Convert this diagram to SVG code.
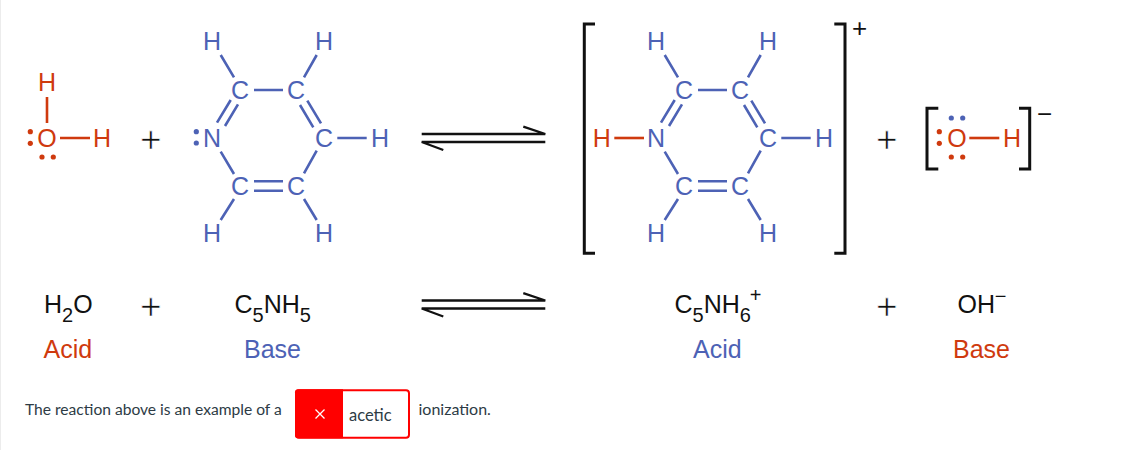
<svg xmlns="http://www.w3.org/2000/svg" width="1133" height="450" viewBox="0 0 1133 450">
<style>
text{font-family:"Liberation Sans",Arial,sans-serif;font-size:25px;text-anchor:middle}
.r{fill:#cf3a0e}.b{fill:#4d62b5}.k{fill:#111}
.sr{stroke:#cf3a0e;stroke-width:2.6;fill:none}
.sb{stroke:#4d62b5;stroke-width:2.6;fill:none}
.sk{stroke:#111;stroke-width:2.3;fill:none}
.br{stroke:#111;stroke-width:3;fill:none}
.p{font-size:37px;stroke:#fff;stroke-width:.7px}
.l{font-family:Lato,"Liberation Sans",sans-serif;font-size:15.6px;text-anchor:start;fill:#2d3b45}
.sub{font-size:20px}
</style>
<defs>
<g id="ringbonds" class="sb">
<path d="M220.7 55L234 77.3M316.7 55L304 77.3M254 90H283M217 122.7L230.7 100M225 126L238 104.3M300 105L313.3 127.3M307.3 100.7L321 123.3M220.7 151.7L234 174M316.7 150.7L304 173.3M254 181.3H283M254 190.7H283M234 199L220.7 220M304 199L316.7 220M337.3 138H366.7"/>
</g>
<g id="eqarrow" class="sk">
<path d="M421.7 134H545.3L523.3 126.7M545.3 142H421.7L443.3 150"/>
</g>
</defs>
<rect width="1133" height="450" fill="#fff"/>
<rect width="1" height="450" fill="#ececec"/>
<g id="connectors">
<path class="sr" d="M47 97V123M60 138H90"/>
<use href="#ringbonds"/>
<use href="#ringbonds" x="444"/>
<path class="sr" d="M614.3 138H644"/>
<path class="sr" d="M969.3 138H999.3"/>
<use href="#eqarrow"/>
<use href="#eqarrow" y="166.5"/>
</g>
<g id="water">
<text class="r" x="47" y="90.7">H</text>
<text class="r" x="47" y="146.8">O</text>
<text class="r" x="102" y="146.8">H</text>
<g class="r"><circle cx="30.3" cy="131.7" r="2.6"/><circle cx="30.3" cy="143.3" r="2.6"/><circle cx="42" cy="157" r="2.6"/><circle cx="53.3" cy="157" r="2.6"/></g>
</g>
<text id="plus1" class="k p" x="150.7" y="151.5">+</text>
<g id="pyridine" class="b">
<text class="b" x="212" y="50">H</text><text class="b" x="324" y="50">H</text>
<text class="b" x="240" y="98.7">C</text><text class="b" x="296" y="98.7">C</text>
<text class="b" x="212" y="146.8">N</text><text class="b" x="324" y="146.8">C</text><text class="b" x="380" y="146.8">H</text>
<text class="b" x="240" y="195">C</text><text class="b" x="296" y="195">C</text>
<text class="b" x="212" y="242.3">H</text><text class="b" x="324" y="242.3">H</text>
<circle cx="196.3" cy="131.7" r="2.6"/><circle cx="196.3" cy="143" r="2.6"/>
</g>
<g id="pyridinium">
<text class="b" x="656" y="50">H</text><text class="b" x="768" y="50">H</text>
<text class="b" x="684" y="98.7">C</text><text class="b" x="740" y="98.7">C</text>
<text class="r" x="601.7" y="146.8">H</text>
<text class="b" x="656" y="146.8">N</text><text class="b" x="768" y="146.8">C</text><text class="b" x="824" y="146.8">H</text>
<text class="b" x="684" y="195">C</text><text class="b" x="740" y="195">C</text>
<text class="b" x="656" y="242.3">H</text><text class="b" x="768" y="242.3">H</text>
<path class="br" d="M595 24H584.3V253.3H595M834.3 24H845V253.3H834.3"/>
<text class="k" x="859.7" y="36.5" style="font-size:26px">+</text>
</g>
<text id="plus2" class="k p" x="886.7" y="151.5">+</text>
<g id="hydroxide">
<path class="br" d="M938.3 108.3H927V169H938.3M1019 108.3H1029.7V169H1019"/>
<text class="r" x="957" y="146.8">O</text>
<text class="r" x="1012" y="146.8">H</text>
<g class="r"><circle cx="939.3" cy="131.7" r="2.6"/><circle cx="939.3" cy="143.3" r="2.6"/><circle cx="951.3" cy="157" r="2.6"/><circle cx="962.7" cy="157" r="2.6"/></g>
<g class="b"><circle cx="951.3" cy="118" r="2.6"/><circle cx="962.7" cy="118" r="2.6"/></g>
<text class="k" x="1044.5" y="122.5" style="font-size:26px">−</text>
</g>
<g id="formula-water"><text class="k" x="44" y="313.3" style="text-anchor:start">H<tspan class="sub" dy="9">2</tspan><tspan dy="-9">O</tspan></text><text class="r" x="67.8" y="358.2">Acid</text></g>
<text id="plus3" class="k p" x="150.7" y="319">+</text>
<g id="formula-pyridine"><text class="k" x="234.5" y="313.3" style="text-anchor:start">C<tspan class="sub" dy="9">5</tspan><tspan dy="-9">NH</tspan><tspan class="sub" dy="9">5</tspan></text><text class="b" x="272.5" y="358.2">Base</text></g>
<g id="formula-pyridinium"><text class="k" x="674.5" y="313.3" style="text-anchor:start">C<tspan class="sub" dy="9">5</tspan><tspan dy="-9">NH</tspan><tspan class="sub" dy="9">6</tspan></text><text class="k" x="755.7" y="302" style="font-size:20px">+</text><text class="b" x="717.3" y="358.2">Acid</text></g>
<text id="plus4" class="k p" x="886.7" y="319">+</text>
<g id="formula-hydroxide"><text class="k" x="957.5" y="313.3" style="text-anchor:start">OH</text><text class="k" x="1000.5" y="303" style="font-size:20px">−</text><text class="r" x="981.5" y="358.2">Base</text></g>
<g id="question">
<text class="l" x="25" y="415">The reaction above is an example of a</text>
<rect x="296" y="390.3" width="113" height="47.5" rx="3" fill="#fff" stroke="#f00" stroke-width="2"/>
<path d="M298 389.3H343V438.3H298Q295 438.3 295 435.3V392.3Q295 389.3 298 389.3Z" fill="#f00"/>
<path d="M315.5 409.5L324.5 418.5M324.5 409.5L315.5 418.5" stroke="#fff" stroke-width="1.3" fill="none"/>
<text class="l" x="349" y="421" style="font-size:16.5px">acetic</text>
<text class="l" x="418.5" y="415" style="font-size:16px">ionization.</text>
</g>
</svg>
